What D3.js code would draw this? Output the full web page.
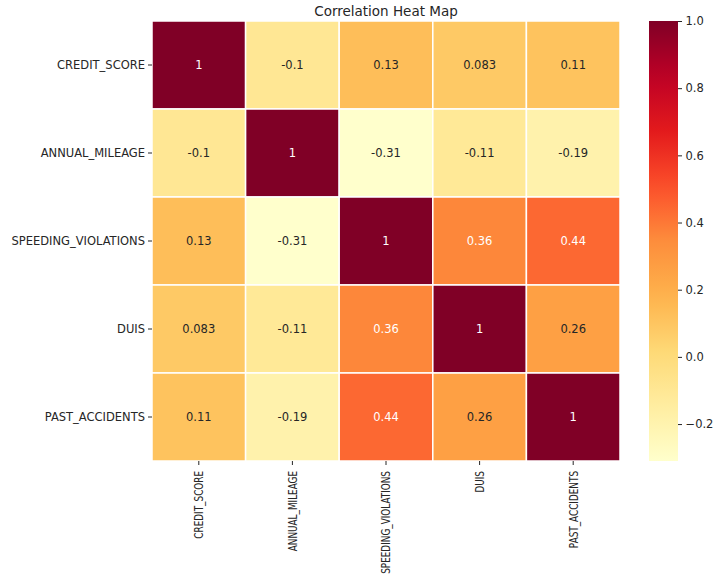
<!DOCTYPE html>
<html>
<head>
<meta charset="utf-8">
<script src="https://cdn.jsdelivr.net/npm/d3@7"></script>
<style>
body { margin: 0; background: #fff; }
text { font-family: "DejaVu Sans", sans-serif; }
</style>
</head>
<body>
<svg id="chart" width="723" height="578"></svg>
<script>
const variables = ["CREDIT_SCORE", "ANNUAL_MILEAGE", "SPEEDING_VIOLATIONS", "DUIS", "PAST_ACCIDENTS"];
const row0 = [1, -0.1, 0.13, 0.083, 0.11];
const row1 = [-0.1, 1, -0.31, -0.11, -0.19];
const row2 = [0.13, -0.31, 1, 0.36, 0.44];
const row3 = [0.083, -0.11, 0.36, 1, 0.26];
const row4 = [0.11, -0.19, 0.44, 0.26, 1];
const matrix = [row0, row1, row2, row3, row4];
const colorbarTicks = [-0.2, 0.0, 0.2, 0.4, 0.6, 0.8, 1.0];
const vmin = -0.31, vmax = 1.0;
const title = "Correlation Heat Map";

const ylorrd = ["#ffffcc","#ffeda0","#fed976","#feb24c","#fd8d3c","#fc4e2a","#e31a1c","#bd0026","#800026"];
const color = d3.scaleLinear()
  .domain(ylorrd.map((_, i) => vmin + (vmax - vmin) * i / (ylorrd.length - 1)))
  .range(ylorrd)
  .interpolate(d3.interpolateRgb)
  .clamp(true);

const svg = d3.select("#chart");
const L = 152, R = 620, T = 21, B = 461;
const FS = 11.5;
const x = d3.scaleBand().domain(variables).range([L, R]);
const y = d3.scaleBand().domain(variables).range([T, B]);

const cells = [];
matrix.forEach((row, i) => row.forEach((v, j) => cells.push({r: variables[i], c: variables[j], v})));

function lum(c) {
  const rgb = d3.rgb(c);
  const f = u => { u /= 255; return u <= 0.03928 ? u / 12.92 : Math.pow((u + 0.055) / 1.055, 2.4); };
  return 0.2126 * f(rgb.r) + 0.7152 * f(rgb.g) + 0.0722 * f(rgb.b);
}

svg.append("g").selectAll("rect").data(cells).join("rect")
  .attr("x", d => x(d.c)).attr("y", d => y(d.r))
  .attr("width", x.bandwidth()).attr("height", y.bandwidth())
  .attr("fill", d => color(d.v))
  .attr("stroke", "#fff").attr("stroke-width", 1.5);

svg.append("g").selectAll("text").data(cells).join("text")
  .attr("x", d => x(d.c) + x.bandwidth() / 2)
  .attr("y", d => y(d.r) + y.bandwidth() / 2)
  .attr("text-anchor", "middle").attr("dominant-baseline", "central")
  .attr("font-size", FS)
  .attr("fill", d => lum(color(d.v)) < 0.408 ? "#ffffff" : "#262626")
  .text(d => String(d.v));

// Y axis
const yAxis = svg.append("g").attr("transform", `translate(${L},0)`)
  .call(d3.axisLeft(y).tickSize(4).tickPadding(3));
yAxis.select(".domain").remove();
yAxis.selectAll("line").attr("stroke", "#262626");
yAxis.selectAll("text").attr("font-size", FS).attr("fill", "#262626").attr("font-family", "DejaVu Sans");

// X axis
const xAxis = svg.append("g").attr("transform", `translate(0,${B})`)
  .call(d3.axisBottom(x).tickSize(4).tickPadding(3));
xAxis.select(".domain").remove();
xAxis.selectAll("line").attr("stroke", "#262626");
xAxis.selectAll("text")
  .attr("font-size", FS).attr("fill", "#262626").attr("font-family", "DejaVu Sans")
  .attr("text-anchor", "end").attr("dy", null).attr("y", 0)
  .attr("dominant-baseline", "central")
  .attr("transform", "translate(0,10) rotate(-90) scale(0.77,1)");

// Title
svg.append("text").attr("x", (L + R) / 2).attr("y", 16)
  .attr("text-anchor", "middle").attr("font-size", 13.5).attr("fill", "#262626")
  .text(title);

// Colorbar
const cbX = 649, cbW = 29;
const cy = d3.scaleLinear().domain([vmin, vmax]).range([B, T]);
const defs = svg.append("defs");
const grad = defs.append("linearGradient").attr("id", "cbgrad")
  .attr("x1", 0).attr("y1", 1).attr("x2", 0).attr("y2", 0);
d3.range(0, 1.0001, 0.05).forEach(t => {
  grad.append("stop").attr("offset", t).attr("stop-color", color(vmin + t * (vmax - vmin)));
});
svg.append("rect").attr("x", cbX).attr("y", T).attr("width", cbW).attr("height", B - T)
  .attr("fill", "url(#cbgrad)");
const cAxis = svg.append("g").attr("transform", `translate(${cbX + cbW},0)`)
  .call(d3.axisRight(cy).tickValues(colorbarTicks).tickSize(4).tickPadding(3.5)
    .tickFormat(d => d3.format(".1f")(d).replace("-", "\u2212")));
cAxis.select(".domain").remove();
cAxis.selectAll("line").attr("stroke", "#262626");
cAxis.selectAll("text").attr("font-size", FS).attr("fill", "#262626").attr("font-family", "DejaVu Sans");
</script>
</body>
</html>
